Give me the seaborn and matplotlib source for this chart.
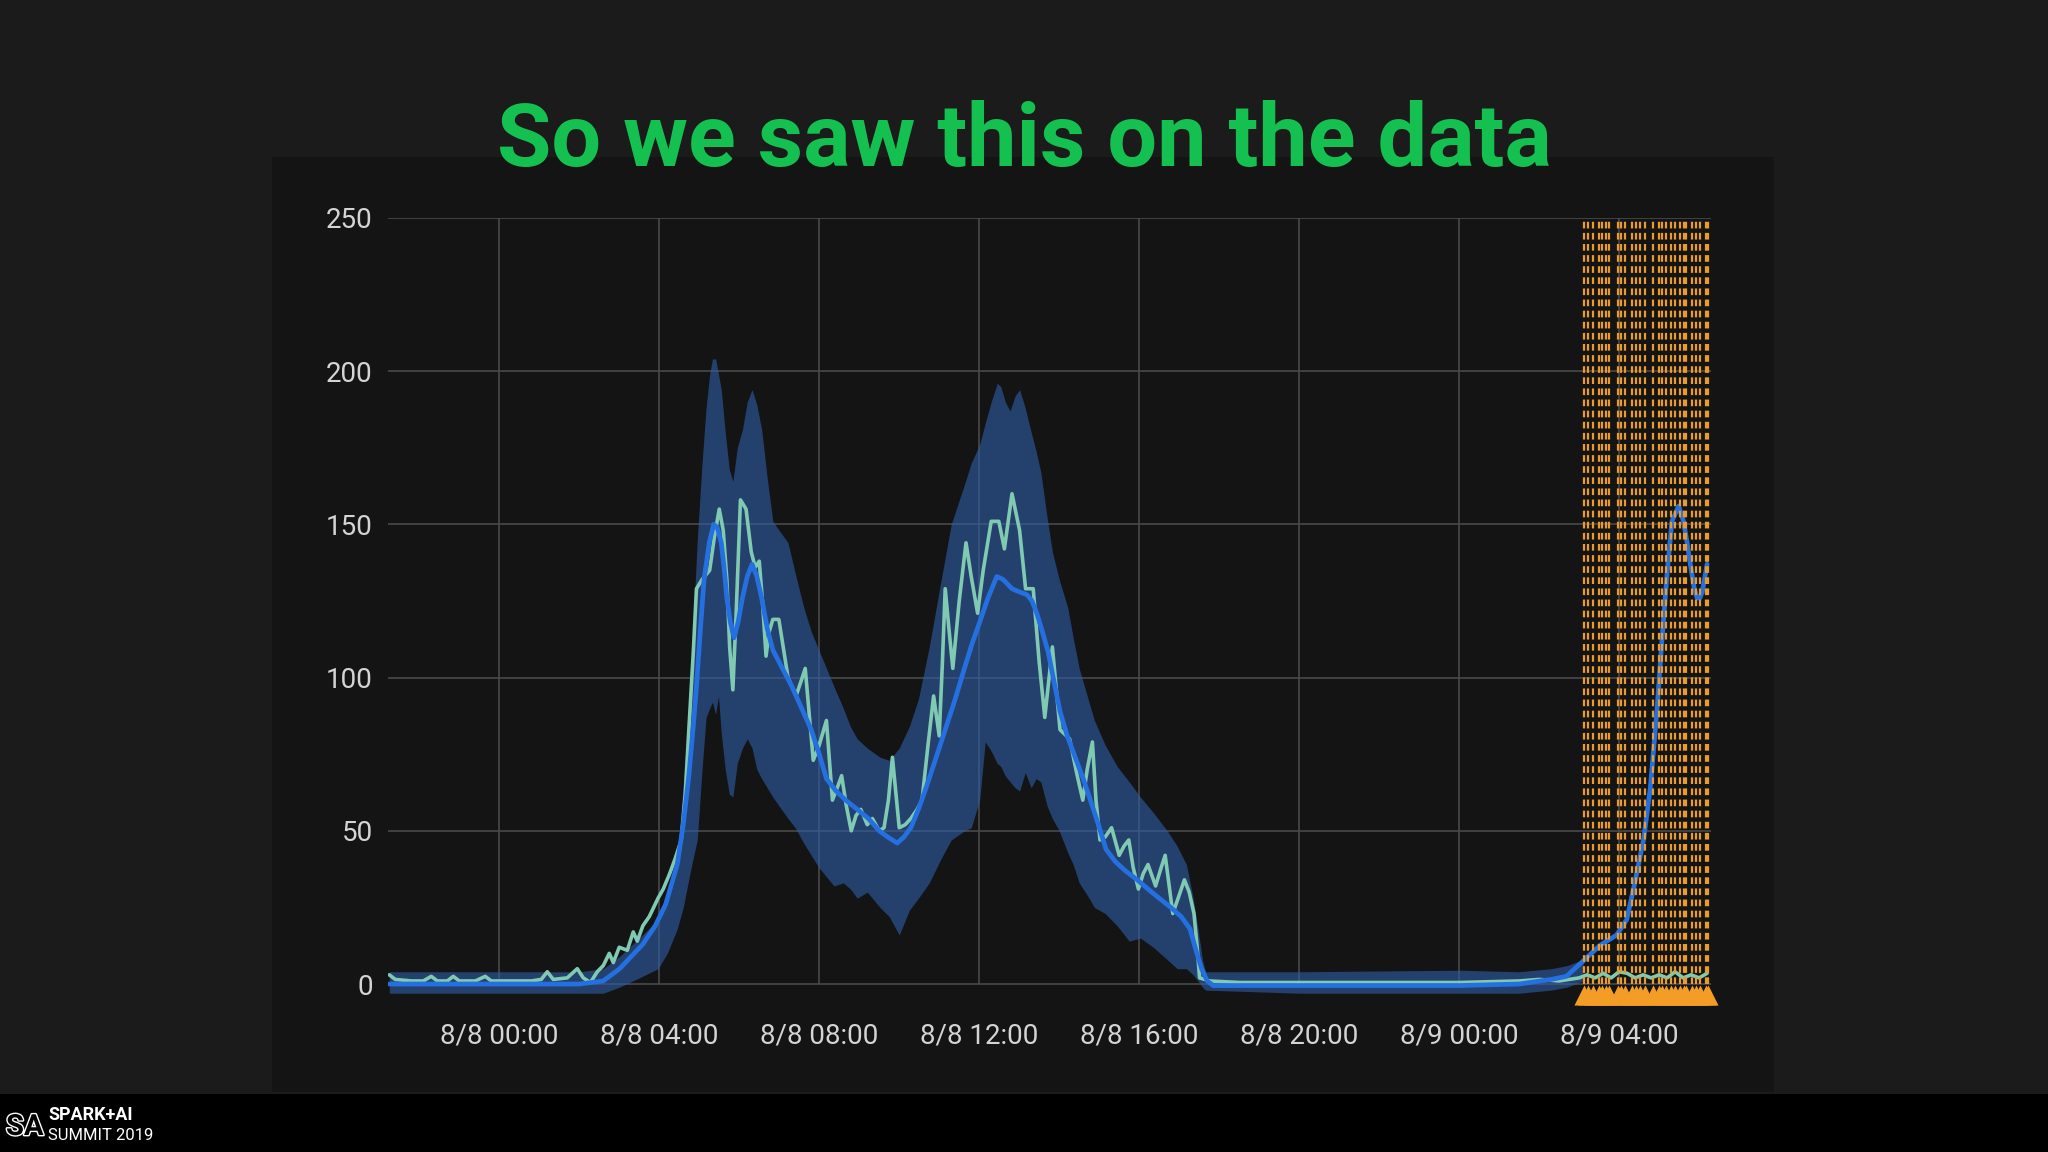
import numpy as np
import pandas as pd
import matplotlib.pyplot as plt
import matplotlib.patheffects as pe
import seaborn as sns
from matplotlib.patches import Rectangle

sns.set_theme(style='dark')
plt.rcParams['font.family'] = ['Roboto', 'DejaVu Sans']

# time axis: hours counted from 8/8 00:00
start = pd.Timestamp('2019-08-08 00:00')

raw_hours = [-2.75, -2.6, -2.2, -1.9, -1.7, -1.55, -1.3, -1.15, -1.0, -0.6, -0.35, -0.2, 0.3, 0.8, 1.05, 1.2, 1.35,
             1.7, 1.95, 2.1, 2.28, 2.45, 2.6, 2.75, 2.85, 3.0, 3.2, 3.35, 3.45, 3.59, 3.75, 3.97, 4.1, 4.26, 4.4,
             4.55, 4.65, 4.74, 4.85, 4.93, 5.07, 5.26, 5.38, 5.5, 5.6, 5.69, 5.76, 5.84, 5.92, 6.03, 6.17, 6.3,
             6.4, 6.5, 6.58, 6.67, 6.75, 6.84, 6.99, 7.1, 7.22, 7.42, 7.55, 7.65, 7.75, 7.85, 8.0, 8.18, 8.33,
             8.45, 8.56, 8.68, 8.8, 8.92, 9.04, 9.2, 9.33, 9.5, 9.62, 9.73, 9.83, 9.92, 10.0, 10.15, 10.29, 10.45,
             10.57, 10.72, 10.86, 11.0, 11.08, 11.15, 11.25, 11.34, 11.5, 11.67, 11.8, 11.96, 12.1, 12.3, 12.49,
             12.63, 12.82, 13.01, 13.16, 13.35, 13.5, 13.64, 13.83, 14.02, 14.26, 14.45, 14.59, 14.7, 14.83,
             14.92, 15.02, 15.15, 15.31, 15.5, 15.62, 15.74, 15.85, 15.98, 16.1, 16.22, 16.41, 16.55, 16.65,
             16.75, 16.84, 17.0, 17.13, 17.25, 17.37, 17.45, 17.51, 17.76, 18.5, 20.0, 22.0, 24.0, 25.5, 26.0,
             26.5, 27.0, 27.2, 27.4, 27.6, 27.8, 28.0, 28.2, 28.4, 28.6, 28.8, 29.0, 29.2, 29.4, 29.6, 29.8,
             30.0, 30.2]
raw_values = [3, 1.5, 1, 1, 2.5, 1, 1, 2.5, 1, 1, 2.5, 1, 1, 1, 1.5, 4, 1.5,
              2, 5, 2, 0.5, 4, 6, 10, 7, 12, 11, 17, 14, 19, 22, 28, 31, 36, 41,
              47, 62, 83, 108, 129, 132, 135, 146, 155, 148, 132, 110, 96, 120, 158, 155, 141,
              136, 138, 125, 107, 115, 119, 119, 110, 100, 94, 99, 103, 88, 73, 78, 86, 60,
              64, 68, 58, 50, 55, 57, 52, 54, 50, 51, 60, 74, 62, 51, 52, 54, 57,
              60, 78, 94, 81, 105, 129, 115, 103, 125, 144, 133, 121, 135, 151, 151,
              142, 160, 148, 129, 129, 105, 87, 110, 83, 80, 68, 60, 70, 79,
              60, 47, 48, 51, 42, 45, 47, 38, 31, 36, 39, 32, 38, 42,
              32, 23, 29, 34, 30, 23, 12, 2, 1, 0.5, 0.5, 0.5, 0.5, 1, 1.5,
              1, 2, 3, 2, 3.5, 2, 4, 3.5, 2, 3, 2, 3, 2, 4, 2, 3,
              2, 3.5]

mean_hours = [-2.75, 0.0, 2.0, 2.6, 3.01, 3.3, 3.59, 3.9, 4.16, 4.45, 4.6, 4.74, 4.85, 4.93, 5.03, 5.12, 5.25,
              5.36, 5.45, 5.55, 5.62, 5.69, 5.78, 5.87, 5.97, 6.08, 6.2, 6.32, 6.44, 6.56, 6.7, 6.84, 7.08, 7.32,
              7.56, 7.8, 8.0, 8.18, 8.42, 8.66, 8.95, 9.23, 9.5, 9.71, 9.95, 10.12, 10.29, 10.48, 10.67, 10.9,
              11.15, 11.4, 11.63, 11.82, 12.01, 12.22, 12.44, 12.6, 12.82, 13.0, 13.2, 13.32, 13.44, 13.58, 13.73,
              13.88, 14.02, 14.2, 14.4, 14.6, 14.78, 14.98, 15.17, 15.4, 15.65, 15.95, 16.22, 16.5, 16.79, 17.05,
              17.27, 17.42, 17.56, 17.7, 17.85, 20.0, 24.0, 25.5, 26.3, 26.68, 27.1, 27.52, 27.94, 28.19, 28.36,
              28.5, 28.61, 28.78, 28.95, 29.07, 29.2, 29.32, 29.49, 29.61, 29.7, 29.78, 29.88, 29.95, 30.02,
              30.08, 30.2]
mean_values = [0, 0, 0, 1, 5, 9, 13, 19, 26, 39, 52, 68, 84, 97, 116, 132, 144,
               150, 149, 144, 136, 126, 118, 113, 118, 126, 133, 137, 133, 126, 116, 109, 103, 97,
               90, 83, 75, 67, 63, 60, 57, 54, 50, 48, 46, 48, 51, 57, 64, 73,
               83, 93, 103, 111, 118, 126, 133, 132, 129, 128, 127, 125, 121, 115, 108,
               98, 89, 81, 74, 67, 60, 52, 44, 40, 37, 34, 31, 28, 25, 22,
               18, 11, 5, 1, -0.5, -0.5, -0.5, 0, 1.5, 2.5, 7.5, 12.6, 16, 21, 31,
               40, 47, 64, 90, 112, 134, 151, 156, 151, 144, 137, 129, 126, 126,
               128, 137]

band_hours = [-2.75, 2.0, 2.6, 3.01, 3.5, 3.97, 4.2, 4.45, 4.6, 4.72, 4.83, 4.95, 5.07, 5.17, 5.26, 5.33, 5.41,
              5.48, 5.55, 5.65, 5.75, 5.84, 5.95, 6.08, 6.2, 6.32, 6.44, 6.56, 6.7, 6.84, 7.0, 7.22, 7.4, 7.61,
              7.8, 7.99, 8.18, 8.37, 8.6, 8.78, 8.95, 9.2, 9.52, 9.75, 10.0, 10.25, 10.48, 10.75, 11.05, 11.3,
              11.63, 11.8, 12.01, 12.15, 12.3, 12.45, 12.54, 12.65, 12.77, 12.9, 13.01, 13.15, 13.3, 13.42,
              13.54, 13.7, 13.83, 14.0, 14.21, 14.35, 14.5, 14.7, 14.88, 15.15, 15.45, 15.75, 16.03, 16.35,
              16.7, 16.95, 17.18, 17.35, 17.47, 17.58, 17.66, 20.0, 24.0, 25.5, 26.3, 26.7, 27.1]
band_upper = [4, 4, 5, 9, 15, 21, 28, 42, 65, 88, 112, 145, 170, 188, 199, 204, 204,
              199, 194, 180, 168, 164, 175, 181, 190, 194, 189, 181, 165, 151, 148, 144, 134, 123,
              115, 109, 103, 97, 90, 84, 80, 77, 74, 73, 77, 84, 93, 110, 132, 150,
              163, 170, 176, 183, 190, 196, 195, 190, 187, 192, 194, 188, 180, 174,
              167, 152, 141, 132, 123, 113, 103, 94, 86, 78, 71, 66, 61, 56,
              50, 45, 39, 28, 18, 8, 4, 4, 4.5, 4, 5, 6, 8]
band_lower = [-3, -3, -3, -1, 2, 5, 10, 18, 25, 33, 40, 47, 70, 87, 90, 92, 88,
              94, 82, 70, 62, 61, 72, 77, 80, 77, 70, 67, 64, 61, 58, 54, 51, 46,
              42, 38, 35, 32, 33, 31, 28, 30, 25, 22, 16, 24, 28, 33, 41, 47,
              50, 51, 60, 79, 76, 72, 71, 68, 66, 64, 63, 69, 64, 67,
              66, 58, 54, 50, 43, 39, 33, 29, 25, 23, 19, 14, 15, 12,
              8, 5, 5, 3, 1, -1, -2, -3, -3, -3, -2, -1, 1]

# annotation markers (orange) on 8/9
annotation_hours = [27.12, 27.23, 27.35, 27.5, 27.56, 27.68, 27.75, 27.97, 28.05, 28.15, 28.33, 28.43, 28.51,
                    28.64, 28.85, 28.99, 29.07, 29.18, 29.3, 29.39, 29.51, 29.61, 29.68, 29.82, 29.93, 30.03,
                    30.16, 30.22]

tick_hours = [0, 4, 8, 12, 16, 20, 24, 28]
tick_labels = ['8/8 00:00', '8/8 04:00', '8/8 08:00', '8/8 12:00', '8/8 16:00', '8/8 20:00', '8/9 00:00',
               '8/9 04:00']
y_ticks = [0, 50, 100, 150, 200, 250]


def to_time(hours):
    return start + pd.to_timedelta(np.array(hours, dtype=float), unit='h')


df_raw = pd.DataFrame({'time': to_time(raw_hours), 'value': raw_values})
df_mean = pd.DataFrame({'time': to_time(mean_hours), 'value': mean_values})
df_band = pd.DataFrame({'time': to_time(band_hours), 'lower': band_lower, 'upper': band_upper})

fig = plt.figure(figsize=(20.48, 11.52), dpi=100, facecolor='#1b1b1b')
fig.patches.append(Rectangle((0.1328, 0.0521), 0.7334, 0.8116, transform=fig.transFigure,
                             facecolor='#141414', edgecolor='none', zorder=-5))
fig.patches.append(Rectangle((0, 0), 1, 0.0503, transform=fig.transFigure,
                             facecolor='#000000', edgecolor='none', zorder=-5))

ax = fig.add_axes([0.1895, 0.1272, 0.646, 0.6836])
ax.set_facecolor('#141414')

# grid
ax.set_axisbelow(True)
ax.grid(axis='y', color='#4a4a4a', linewidth=1.2)
ax.grid(axis='x', visible=False)
ax.vlines(to_time(tick_hours), 0, 250, color='#4a4a4a', linewidth=1.2, zorder=0.5)

# band + series
ax.fill_between(df_band['time'], df_band['lower'], df_band['upper'], color='#2f5ea8', alpha=0.6,
                linewidth=0, zorder=1)
sns.lineplot(data=df_raw, x='time', y='value', ax=ax, color='#80cab2', linewidth=2.6, zorder=2)
sns.lineplot(data=df_mean, x='time', y='value', ax=ax, color='#2470e0', linewidth=3.4, zorder=3)

# annotations
ann_times = to_time(annotation_hours)
ax.vlines(ann_times, 0, 250, colors='#eb9a2c', linestyles=(0, (3, 2)), linewidth=1.6, zorder=4)
ax.scatter(ann_times, [-3.6] * len(ann_times), marker='^', s=210, color='#f39c26', linewidths=0,
           zorder=5, clip_on=False)

ax.set_xlim(to_time([-2.78])[0], to_time([30.3])[0])
ax.set_ylim(-7, 250)
ax.set_xticks(to_time(tick_hours))
ax.set_xticklabels(tick_labels)
ax.set_yticks(y_ticks)
ax.set_xlabel('')
ax.set_ylabel('')
ax.tick_params(axis='both', length=0, colors='#d4d4d4', labelsize=20)
ax.tick_params(axis='x', pad=12)
ax.tick_params(axis='y', pad=11)
for s in ax.spines.values():
    s.set_visible(False)

fig.text(0.5, 1 - 142 / 1152, 'So we saw this on the data', ha='center', va='center', fontsize=63.5,
         fontweight='bold', color='#14c150')

# footer logo
fig.text(6 / 2048, 1 - 1127 / 1152, 'SA', ha='left', va='center', fontsize=21, fontweight='bold',
         color='#000000', path_effects=[pe.withStroke(linewidth=2, foreground='white')])
fig.text(48 / 2048, 1 - 1115 / 1152, 'SPARK+AI', ha='left', va='center', fontsize=13, fontweight='bold',
         color='white')
fig.text(48 / 2048, 1 - 1136 / 1152, 'SUMMIT 2019', ha='left', va='center', fontsize=12, color='white')

fig.savefig('out.png', dpi=100, facecolor=fig.get_facecolor())
